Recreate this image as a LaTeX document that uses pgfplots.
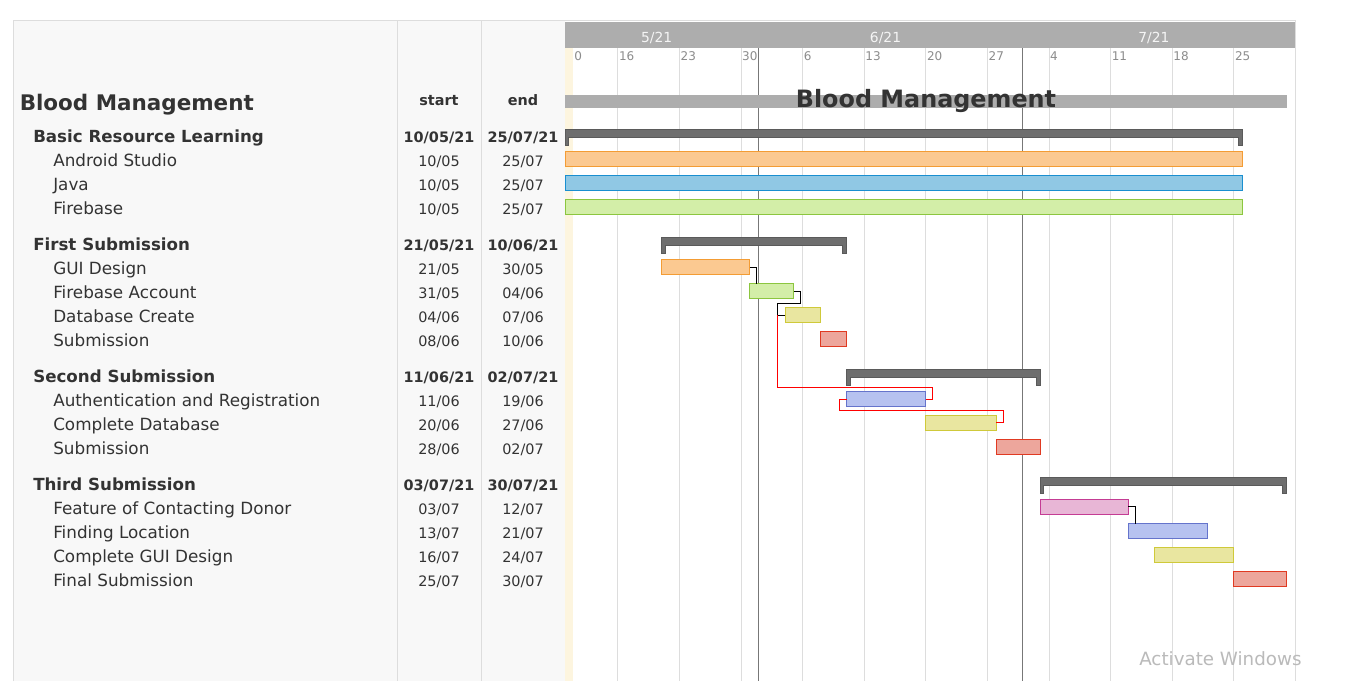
\documentclass[border=0pt]{standalone}
\usepackage{pgfplots}
\pgfplotsset{compat=1.18}
\usepackage{fontspec}
\setmainfont{DejaVu Sans}

\definecolor{txt}{HTML}{333333}
\definecolor{panel}{HTML}{F8F8F8}
\definecolor{rule}{HTML}{DDDDDD}
\definecolor{head}{HTML}{ADADAD}
\definecolor{today}{HTML}{FDF5DF}
\definecolor{month}{HTML}{777777}
\definecolor{daylbl}{HTML}{8C8C8C}
\definecolor{sumfill}{HTML}{6E6E6E}
\definecolor{sumline}{HTML}{5A5A5A}
\definecolor{orgF}{HTML}{FBC991}\definecolor{orgD}{HTML}{F39C34}
\definecolor{bluF}{HTML}{90C8E4}\definecolor{bluD}{HTML}{1A8FD0}
\definecolor{grnF}{HTML}{D3EEA8}\definecolor{grnD}{HTML}{8CC63F}
\definecolor{ylwF}{HTML}{E9E6A0}\definecolor{ylwD}{HTML}{CFC93A}
\definecolor{redF}{HTML}{EDA69C}\definecolor{redD}{HTML}{E03A22}
\definecolor{lavF}{HTML}{B6C2F0}\definecolor{lavD}{HTML}{6574CC}
\definecolor{pnkF}{HTML}{E8B6D6}\definecolor{pnkD}{HTML}{C43C94}

\tikzset{
  task/.style={anchor=base west, inner sep=0pt, text=txt, font=\fontsize{12.6}{15}\selectfont},
  grp/.style={anchor=base west, inner sep=0pt, text=txt, font=\fontsize{12.5}{15}\selectfont\bfseries},
  date/.style={anchor=base, inner sep=0pt, text=txt, font=\fontsize{10.8}{13}\selectfont},
  bdate/.style={anchor=base, inner sep=0pt, text=txt, font=\fontsize{10.8}{13}\selectfont\bfseries},
  day/.style={anchor=base west, inner sep=0pt, text=daylbl, font=\fontsize{9}{11}\selectfont},
  mon/.style={anchor=base, inner sep=0pt, text=white!96!black, font=\fontsize{10.4}{12}\selectfont},
}

% x: days since 10 May 2021 (8.8 px a day), y: pixels from the top
% left table columns (days): name -58.182, group -60.455, start -14.318, end -4.773

% start day, end day (exclusive), row centre, fill, border
\newcommand{\taskbar}[5]{%
  \pgfmathsetmacro\yt{#3-7.2}\pgfmathsetmacro\yb{#3+7.2}%
  \addplot[fill=#4, draw=#5] coordinates {(#1,\yt) (#2,\yt) (#2,\yb) (#1,\yb)} -- cycle;
}
% group bar with the two little legs
\newcommand{\summary}[3]{%
  \pgfmathsetmacro\yt{#3-6}\pgfmathsetmacro\yb{#3+2}\pgfmathsetmacro\yl{#3+10}%
  \pgfmathsetmacro\xa{#1+0.42}\pgfmathsetmacro\xb{#2-0.42}%
  \addplot[fill=sumfill, draw=sumline] coordinates {(#1,\yt) (#2,\yt) (#2,\yl) (\xb,\yl) (\xb,\yb) (\xa,\yb) (\xa,\yl) (#1,\yl)} -- cycle;
}
% one row of the table: y, name, start, end
\newcommand{\row}[4]{%
  \node[task] at (axis cs:-58.182,#1) {#2};
  \node[date] at (axis cs:-14.318,#1) {#3};
  \node[date] at (axis cs:-4.773,#1) {#4};
}
\newcommand{\grow}[4]{%
  \node[grp] at (axis cs:-60.455,#1) {#2};
  \node[bdate] at (axis cs:-14.318,#1) {#3};
  \node[bdate] at (axis cs:-4.773,#1) {#4};
}

\begin{document}
\begin{tikzpicture}
\begin{axis}[
  width=1025.25pt, height=510.75pt, scale only axis,
  xmin=-64.2045, xmax=91.1364, ymin=0, ymax=681, y dir=reverse,
  axis lines=none,
  every axis plot/.append style={line width=0.75pt},
]
% background and left table
\addplot[fill=white, draw=none] coordinates {(-64.2045,0) (91.1364,0) (91.1364,681) (-64.2045,681)} -- cycle;
\addplot[fill=panel, draw=none] coordinates {(-62.727,21) (0,21) (0,681) (-62.727,681)} -- cycle;
\addplot[rule] coordinates {(-62.727,681) (-62.727,21) (83,21) (83,681)};
\addplot[rule] coordinates {(-19.091,21) (-19.091,681)};
\addplot[rule] coordinates {(-9.545,21) (-9.545,681)};

% timeline header
\addplot[fill=head, draw=none] coordinates {(0,22) (83,22) (83,48) (0,48)} -- cycle;
\addplot[fill=today, draw=none] coordinates {(0,48) (0.91,48) (0.91,681) (0,681)} -- cycle;
\pgfplotsinvokeforeach{6,13,20,27,34,41,48,55,62,69,76}{
  \addplot[rule] coordinates {(#1,48) (#1,681)};
}
\addplot[month] coordinates {(22,48) (22,681)};
\addplot[month] coordinates {(52,48) (52,681)};

\node[mon] at (axis cs:10.41,42.3) {5/21};
\node[mon] at (axis cs:36.42,42.3) {6/21};
\node[mon] at (axis cs:66.93,42.3) {7/21};
\node[day] at (axis cs:1.02,60.3) {0};
\node[day] at (axis cs:6.11,60.3) {16};
\node[day] at (axis cs:13.11,60.3) {23};
\node[day] at (axis cs:20.11,60.3) {30};
\node[day] at (axis cs:27.11,60.3) {6};
\node[day] at (axis cs:34.11,60.3) {13};
\node[day] at (axis cs:41.11,60.3) {20};
\node[day] at (axis cs:48.11,60.3) {27};
\node[day] at (axis cs:55.11,60.3) {4};
\node[day] at (axis cs:62.11,60.3) {11};
\node[day] at (axis cs:69.11,60.3) {18};
\node[day] at (axis cs:76.11,60.3) {25};

% project bar
\addplot[fill=head, draw=none] coordinates {(0,95) (82,95) (82,107.5) (0,107.5)} -- cycle;

% Basic Resource Learning
\summary{0}{77}{135}
\taskbar{0}{77}{159}{orgF}{orgD}
\taskbar{0}{77}{183}{bluF}{bluD}
\taskbar{0}{77}{207}{grnF}{grnD}
% First Submission
\summary{11}{32}{243}
\taskbar{11}{21}{267}{orgF}{orgD}
\taskbar{21}{26}{291}{grnF}{grnD}
\taskbar{25}{29}{315}{ylwF}{ylwD}
\taskbar{29}{32}{339}{redF}{redD}
% Second Submission
\summary{32}{54}{375}
\taskbar{32}{41}{399}{lavF}{lavD}
\taskbar{41}{49}{423}{ylwF}{ylwD}
\taskbar{49}{54}{447}{redF}{redD}
% Third Submission
\summary{54}{82}{483}
\taskbar{54}{64}{507}{pnkF}{pnkD}
\taskbar{64}{73}{531}{lavF}{lavD}
\taskbar{67}{76}{555}{ylwF}{ylwD}
\taskbar{76}{82}{579}{redF}{redD}

% dependencies
\addplot[black] coordinates {(21,267.3) (21.78,267.3) (21.78,283.8)};
\addplot[black] coordinates {(26,291.3) (26.74,291.3) (26.74,303.3) (24.13,303.3) (24.13,315.3) (25,315.3)};
\addplot[red] coordinates {(24.13,315.3) (24.13,387.3) (41.74,387.3) (41.74,399.3) (41,399.3)};
\addplot[red] coordinates {(32,399.3) (31.17,399.3) (31.17,410.3) (49.8,410.3) (49.8,422.3) (49,422.3)};
\addplot[black] coordinates {(64,506.3) (64.8,506.3) (64.8,523.8)};

\node[anchor=base, inner sep=0pt, text=txt, font=\fontsize{17.9}{20}\selectfont\bfseries] at (axis cs:41.02,107) {Blood Management};

% left table
\node[anchor=base west, inner sep=0pt, text=txt, font=\fontsize{16.1}{19}\selectfont\bfseries] at (axis cs:-61.99,110.7) {Blood Management};
\node[bdate] at (axis cs:-14.318,105.7) {start};
\node[bdate] at (axis cs:-4.773,105.7) {end};

\grow{142.8}{Basic Resource Learning}{10/05/21}{25/07/21}
\row{166.3}{Android Studio}{10/05}{25/07}
\row{190.3}{Java}{10/05}{25/07}
\row{214.3}{Firebase}{10/05}{25/07}

\grow{250.8}{First Submission}{21/05/21}{10/06/21}
\row{274.3}{GUI Design}{21/05}{30/05}
\row{298.3}{Firebase Account}{31/05}{04/06}
\row{322.3}{Database Create}{04/06}{07/06}
\row{346.3}{Submission}{08/06}{10/06}

\grow{382.8}{Second Submission}{11/06/21}{02/07/21}
\row{406.3}{Authentication and Registration}{11/06}{19/06}
\row{430.3}{Complete Database}{20/06}{27/06}
\row{454.3}{Submission}{28/06}{02/07}

\grow{490.3}{Third Submission}{03/07/21}{30/07/21}
\row{514.3}{Feature of Contacting Donor}{03/07}{12/07}
\row{538.3}{Finding Location}{13/07}{21/07}
\row{562.3}{Complete GUI Design}{16/07}{24/07}
\row{586.3}{Final Submission}{25/07}{30/07}

% screen watermark
\node[anchor=base west, inner sep=0pt, text=black!27, font=\fontsize{13.7}{16}\selectfont] at (axis cs:65.227,665.3) {Activate Windows};
\end{axis}
\end{tikzpicture}
\end{document}
